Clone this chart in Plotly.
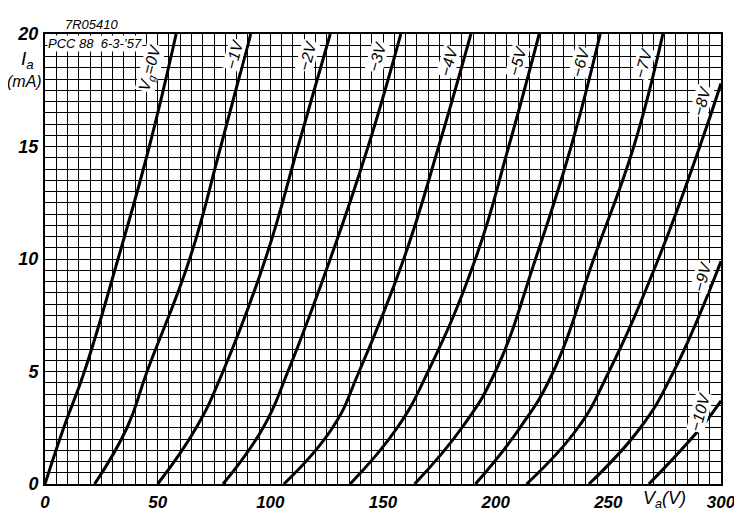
import plotly.graph_objects as go

# Anode characteristics PCC88: Ia (mA) vs Va (V) for grid voltages Vg
grid_labels = ["V<sub>g</sub>=0V", "\u22121V", "\u22122V", "\u22123V", "\u22124V", "\u22125V",
               "\u22126V", "\u22127V", "\u22128V", "\u22129V", "\u221210V"]

ia_std = [0, 2.5, 5, 10, 15, 20]
va_vg0 = [0, 8.3, 17.5, 32.4, 46.3, 58.2]
va_m1 = [22.0, 36.4, 45.3, 64.2, 78.0, 91.3]
va_m2 = [50.0, 67.1, 79.0, 97.8, 112.3, 126.6]
va_m3 = [79.0, 96.8, 107.8, 126.6, 143.4, 157.9]
va_m4 = [106.0, 127.6, 139.4, 159.2, 174.7, 189.0]
va_m5 = [135.4, 156.3, 170.0, 191.0, 205.8, 219.3]
va_m6 = [164.0, 185.0, 199.9, 217.7, 233.5, 246.4]
va_m7 = [191.0, 210.8, 225.6, 243.5, 261.3, 274.2]
va_m8 = [213.7, 236.5, 250.3, 272.2, 290.6, 300.0]
ia_m8 = [0, 2.5, 5, 10, 15, 17.8]
va_m9 = [241.4, 264.2, 279.0, 300.0]
ia_m9 = [0, 2.5, 5, 9.9]
va_m10 = [268.0, 291.0, 300.0]
ia_m10 = [0, 2.5, 3.7]

curves = [
    (va_vg0, ia_std), (va_m1, ia_std), (va_m2, ia_std), (va_m3, ia_std),
    (va_m4, ia_std), (va_m5, ia_std), (va_m6, ia_std), (va_m7, ia_std),
    (va_m8, ia_m8), (va_m9, ia_m9), (va_m10, ia_m10),
]

# label anchor positions (Va, Ia)
label_va = [47, 84, 116.5, 147.5, 179, 209.5, 237.5, 265.5, 291.5, 291.5, 290.5]
label_ia = [18.5, 19.1, 19.0, 19.0, 18.8, 18.8, 18.75, 18.7, 17.0, 9.2, 3.2]

x_ticks = [0, 50, 100, 150, 200, 250, 300]
y_ticks = [0, 5, 10, 15, 20]

FONT = "Liberation Sans"

fig = go.Figure()
for va, ia in curves:
    fig.add_trace(go.Scatter(x=va, y=ia, mode="lines",
                             line=dict(color="black", width=3, shape="spline", smoothing=1.3),
                             showlegend=False, hoverinfo="skip", cliponaxis=True))

for txt, xv, yv in zip(grid_labels, label_va, label_ia):
    fig.add_annotation(x=xv, y=yv, xref="x", yref="y", text=txt, showarrow=False,
                       textangle=-75, bgcolor="white", borderpad=0,
                       font=dict(family=FONT, size=16, color="black", style="italic"))

fig.add_annotation(x=0, y=20, xref="paper", yref="y", text="PCC 88  6-3-\u201957",
                   showarrow=False, xanchor="left", yanchor="top", xshift=2, yshift=-1,
                   bgcolor="white", borderpad=0,
                   font=dict(family=FONT, size=13, color="black", style="italic"))
fig.add_annotation(x=0, y=20, xref="paper", yref="y", text="7R05410",
                   showarrow=False, xanchor="left", yanchor="bottom", xshift=18, yshift=0,
                   font=dict(family=FONT, size=13, color="black", style="italic"))
fig.add_annotation(x=0, y=18.85, xref="paper", yref="y", text="I<sub>a</sub>",
                   showarrow=False, xanchor="right", xshift=-9,
                   font=dict(family=FONT, size=19, color="black", style="italic"))
fig.add_annotation(x=0, y=17.9, xref="paper", yref="y", text="(mA)",
                   showarrow=False, xanchor="right", xshift=-1,
                   font=dict(family=FONT, size=16, color="black", style="italic"))
fig.add_annotation(x=275, y=0, xref="x", yref="paper", text="V<sub>a</sub>(V)",
                   showarrow=False, yanchor="top", yshift=-2,
                   font=dict(family=FONT, size=18, color="black", style="italic"))

fig.update_xaxes(range=[0, 300], tickvals=x_ticks, ticktext=[str(v) for v in x_ticks],
                 showgrid=True, gridcolor="black", gridwidth=1,
                 minor=dict(dtick=5, showgrid=True, gridcolor="black", gridwidth=1),
                 showline=True, linecolor="black", linewidth=2, mirror=True,
                 ticks="", zeroline=False, ticklabelstandoff=2, automargin=False,
                 tickfont=dict(family=FONT, size=17, color="black", style="italic", weight="bold"))
fig.update_yaxes(range=[0, 20], tickvals=y_ticks, ticktext=[str(v) for v in y_ticks],
                 showgrid=True, gridcolor="black", gridwidth=1,
                 minor=dict(dtick=0.5, showgrid=True, gridcolor="black", gridwidth=1),
                 showline=True, linecolor="black", linewidth=2, mirror=True,
                 ticks="", zeroline=False, ticklabelstandoff=1, automargin=False,
                 tickfont=dict(family=FONT, size=18, color="black", style="italic", weight="bold"))

# page body adds an 8px offset; size/margins compensate so the plot lands where the reference has it
fig.update_layout(width=734, height=512, paper_bgcolor="white", plot_bgcolor="white",
                  margin=dict(l=37, r=21, t=26, b=36), showlegend=False)

fig.write_html("out.html")
